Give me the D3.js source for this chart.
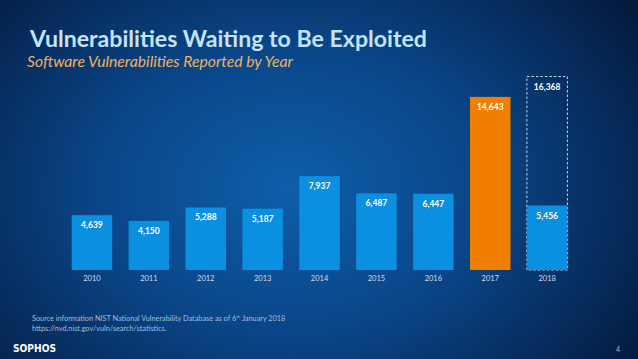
<!DOCTYPE html>
<html><head><meta charset="utf-8">
<script src="https://cdn.jsdelivr.net/npm/d3@7"></script>
<style>html,body{margin:0;padding:0;background:#08264f;}svg{display:block;}</style>
</head><body>
<script>
const years = ["2010","2011","2012","2013","2014","2015","2016","2017","2018"];
const values = [4639,4150,5288,5187,7937,6487,6447,14643,5456];
const projected2018 = 16368;
const highlightYear = "2017";
const title = "Vulnerabilities Waiting to Be Exploited";
const subtitle = "Software Vulnerabilities Reported by Year";

const W = 638, H = 359;
const svg = d3.select("body").append("svg").attr("width", W).attr("height", H);
const defs = svg.append("defs");
const rg = defs.append("radialGradient").attr("id","bg")
  .attr("gradientUnits","userSpaceOnUse").attr("cx",290).attr("cy",190).attr("r",420)
  .attr("gradientTransform","matrix(1,0,0,0.75,0,47)");
rg.append("stop").attr("offset","0%").attr("stop-color","#0e5eaa");
rg.append("stop").attr("offset","45%").attr("stop-color","#0a4688");
rg.append("stop").attr("offset","80%").attr("stop-color","#062a5a");
rg.append("stop").attr("offset","100%").attr("stop-color","#041a3c");
svg.append("rect").attr("width",W).attr("height",H).attr("fill","url(#bg)");

const x = d3.scaleBand().domain(years).range([63.5, 575.6]).paddingInner(0.288).paddingOuter(0.144);
const y = d3.scaleLinear().domain([0, 16368]).range([270, 76.5]);

const g = svg.append("g");
g.append("rect")
  .attr("x", x("2018")).attr("y", y(projected2018))
  .attr("width", x.bandwidth()).attr("height", y(0)-y(projected2018))
  .attr("fill","none").attr("stroke","#c9d6e6").attr("stroke-width",1)
  .attr("stroke-dasharray","2.5,2");

g.selectAll("rect.bar").data(years).join("rect").attr("class","bar")
  .attr("x", d=>x(d)).attr("y", (d,i)=>y(values[i]))
  .attr("width", x.bandwidth()).attr("height", (d,i)=>y(0)-y(values[i]))
  .attr("fill", d=>d===highlightYear?"#f07f00":"#0b8fe0");

const fmt = d3.format(",");
g.selectAll("text.val").data(years).join("text").attr("class","val")
  .attr("x", d=>x(d)+x.bandwidth()/2).attr("y", (d,i)=>y(values[i])+13)
  .attr("text-anchor","middle").attr("fill","#ffffff")
  .attr("font-family","Lato, 'Open Sans', sans-serif").attr("font-weight","bold").attr("font-size","8.5px")
  .text((d,i)=>fmt(values[i]));
g.append("text").attr("x", x("2018")+x.bandwidth()/2).attr("y", y(projected2018)+13)
  .attr("text-anchor","middle").attr("fill","#ffffff")
  .attr("font-family","Lato, 'Open Sans', sans-serif").attr("font-weight","bold").attr("font-size","8.5px")
  .text(fmt(projected2018));

const xAxis = d3.axisBottom(x).tickSize(0).tickPadding(6);
const ax = svg.append("g").attr("transform","translate(0,270)").call(xAxis);
ax.select(".domain").remove();
ax.selectAll("text").attr("fill","#d5dde8").attr("font-family","Lato, 'Open Sans', sans-serif").attr("font-size","7.5px");

svg.append("text").attr("x",30).attr("y",47).attr("fill","#c4e2f8")
  .attr("font-family","Lato, 'Open Sans', sans-serif").attr("font-weight","bold").attr("font-size","23.3px")
  .attr("textLength",397).attr("lengthAdjust","spacingAndGlyphs")
  .text(title);
svg.append("text").attr("x",27).attr("y",67).attr("fill","#f0b25e")
  .attr("font-family","Lato, 'Open Sans', sans-serif").attr("font-style","italic").attr("font-size","15px")
  .attr("textLength",266).attr("lengthAdjust","spacingAndGlyphs")
  .text(subtitle);

const src = svg.append("text").attr("x",32).attr("y",320.5).attr("fill","#a9bdd6")
  .attr("font-family","Lato, 'Open Sans', sans-serif").attr("font-size","7.3px");
src.append("tspan").text("Source information NIST National Vulnerability Database as of 6");
src.append("tspan").attr("font-size","4.5px").attr("dy",-2.5).text("th");
src.append("tspan").attr("dy",2.5).text(" January 2018");
svg.append("text").attr("x",32).attr("y",330.5).attr("fill","#a9bdd6")
  .attr("font-family","Lato, 'Open Sans', sans-serif").attr("font-size","7.3px")
  .text("https://nvd.nist.gov/vuln/search/statistics.");

svg.append("text").attr("x",13).attr("y",352).attr("fill","#ffffff")
  .attr("font-family","'DejaVu Sans', sans-serif").attr("font-weight","bold").attr("font-size","10.5px")
  .attr("textLength",43).attr("lengthAdjust","spacingAndGlyphs")
  .text("SOPHOS");
svg.append("text").attr("x",618).attr("y",352).attr("fill","#a9bdd6")
  .attr("font-family","Lato, 'Open Sans', sans-serif").attr("font-size","7px").attr("text-anchor","middle")
  .text("4");
</script>
</body></html>
